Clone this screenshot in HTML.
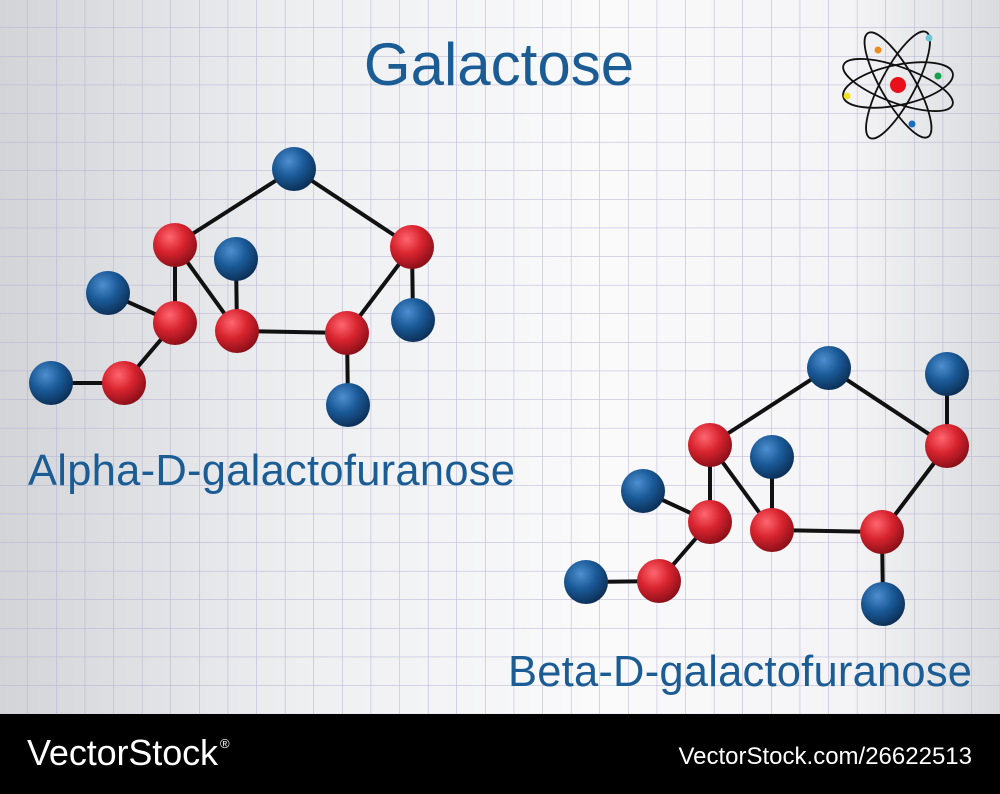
<!DOCTYPE html>
<html><head><meta charset="utf-8"><style>
html,body{margin:0;padding:0;width:1000px;height:794px;overflow:hidden;font-family:"Liberation Sans",sans-serif}
</style></head><body>
<svg width="1000" height="794" viewBox="0 0 1000 794" xmlns="http://www.w3.org/2000/svg">
<defs>
<linearGradient id="bg" x1="0" x2="1" y1="0" y2="0">
<stop offset="0" stop-color="#d2d4d8"/><stop offset="0.3" stop-color="#eeeff1"/><stop offset="0.6" stop-color="#fafafb"/><stop offset="0.85" stop-color="#f4f4f6"/><stop offset="1" stop-color="#d9dbde"/>
</linearGradient>
<pattern id="grid" width="28.6" height="28.6" patternUnits="userSpaceOnUse" x="-0.6" y="-0.6">
<path d="M28.6 0V28.6M0 28.6H28.6" stroke="#b3b0d2" stroke-width="1" fill="none"/>
</pattern>
<radialGradient id="r" cx="0.38" cy="0.32" r="0.7">
<stop offset="0" stop-color="#ff6670"/><stop offset="0.5" stop-color="#d8242f"/><stop offset="1" stop-color="#8a0f18"/>
</radialGradient>
<radialGradient id="b" cx="0.38" cy="0.32" r="0.7">
<stop offset="0" stop-color="#4f8fcf"/><stop offset="0.5" stop-color="#1a5a98"/><stop offset="1" stop-color="#0c2f56"/>
</radialGradient>
</defs>
<rect width="1000" height="794" fill="url(#bg)"/>
<rect width="1000" height="714" fill="url(#grid)"/>
<text x="499" y="85" text-anchor="middle" font-size="60" fill="#1b5c95">Galactose</text>
<g fill="none" stroke="#111" stroke-width="1.8">
<ellipse cx="898" cy="85" rx="56" ry="20" transform="rotate(-12 898 85)"/>
<ellipse cx="898" cy="85" rx="60" ry="17" transform="rotate(60 898 85)"/>
<ellipse cx="898" cy="85" rx="60" ry="17" transform="rotate(-62 898 85)"/>
<ellipse cx="898" cy="85" rx="58" ry="18" transform="rotate(20 898 85)"/>
</g>
<circle cx="898" cy="85" r="8" fill="#e8101a"/>
<circle cx="878" cy="50" r="3.5" fill="#f08a20"/><circle cx="929" cy="38" r="3.5" fill="#6cc6d0"/>
<circle cx="938" cy="76" r="3.5" fill="#16a04a"/><circle cx="847" cy="96" r="3.5" fill="#f4e020"/>
<circle cx="912" cy="124" r="3.5" fill="#1a6ec0"/>
<g stroke="#111" stroke-width="4" stroke-linecap="round">
<path d="M294 169L175 245M294 169L412 247M175 245L175 323M175 245L237 331M236 259L237 331M237 331L347 333M347 333L412 247M412 247L413 320M347 333L348 405M108 293L175 323M175 323L124 383M124 383L51 383"/>
<path d="M829 368L710 445M829 368L947 446M947 374L947 446M710 445L710 522M710 445L772 530M772 457L772 530M772 530L882 532M882 532L947 446M882 532L883 604M643 491L710 522M710 522L659 581M659 581L586 582"/>
</g>
<g>
<circle cx="294" cy="169" r="22" fill="url(#b)"/><circle cx="175" cy="245" r="22" fill="url(#r)"/>
<circle cx="412" cy="247" r="22" fill="url(#r)"/><circle cx="236" cy="259" r="22" fill="url(#b)"/>
<circle cx="108" cy="293" r="22" fill="url(#b)"/><circle cx="175" cy="323" r="22" fill="url(#r)"/>
<circle cx="237" cy="331" r="22" fill="url(#r)"/><circle cx="347" cy="333" r="22" fill="url(#r)"/>
<circle cx="413" cy="320" r="22" fill="url(#b)"/><circle cx="51" cy="383" r="22" fill="url(#b)"/>
<circle cx="124" cy="383" r="22" fill="url(#r)"/><circle cx="348" cy="405" r="22" fill="url(#b)"/>
<circle cx="829" cy="368" r="22" fill="url(#b)"/><circle cx="710" cy="445" r="22" fill="url(#r)"/>
<circle cx="947" cy="446" r="22" fill="url(#r)"/><circle cx="947" cy="374" r="22" fill="url(#b)"/>
<circle cx="772" cy="457" r="22" fill="url(#b)"/><circle cx="643" cy="491" r="22" fill="url(#b)"/>
<circle cx="710" cy="522" r="22" fill="url(#r)"/><circle cx="772" cy="530" r="22" fill="url(#r)"/>
<circle cx="882" cy="532" r="22" fill="url(#r)"/><circle cx="586" cy="582" r="22" fill="url(#b)"/>
<circle cx="659" cy="581" r="22" fill="url(#r)"/><circle cx="883" cy="604" r="22" fill="url(#b)"/>
</g>
<text x="28" y="485" font-size="43.5" fill="#1b5c95" textLength="487">Alpha-D-galactofuranose</text>
<text x="508" y="686" font-size="43.5" fill="#1b5c95" textLength="464">Beta-D-galactofuranose</text>
<rect y="714" width="1000" height="80" fill="#000"/>
<text x="27" y="765" font-size="36" fill="#fff" letter-spacing="-1" textLength="190">VectorStock</text>
<text x="220" y="748" font-size="13" fill="#fff">®</text>
<text x="972" y="764" text-anchor="end" font-size="24" fill="#fff">VectorStock.com/26622513</text>
</svg>
</body></html>
